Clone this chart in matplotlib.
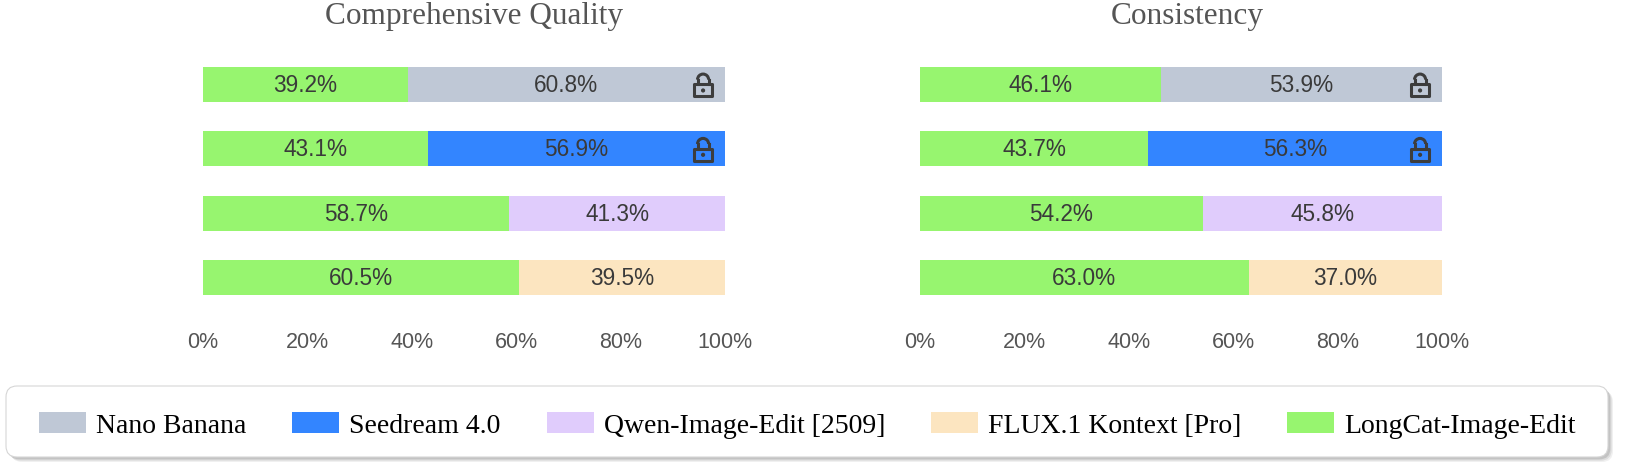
import matplotlib
matplotlib.use("Agg")
import matplotlib.pyplot as plt
from matplotlib.patches import Patch, FancyBboxPatch, Rectangle, Arc, Circle
from matplotlib.lines import Line2D
from matplotlib.offsetbox import DrawingArea, AnnotationBbox

models = ["Nano Banana", "Seedream 4.0", "Qwen-Image-Edit [2509]", "FLUX.1 Kontext [Pro]"]
ours = "LongCat-Image-Edit"
titles = ["Comprehensive Quality", "Consistency"]

ours_quality = [39.2, 43.1, 58.7, 60.5]
other_quality = [60.8, 56.9, 41.3, 39.5]
ours_consistency = [46.1, 43.7, 54.2, 63.0]
other_consistency = [53.9, 56.3, 45.8, 37.0]
closed_source = [True, True, False, False]

ticks = [0, 20, 40, 60, 80, 100]
tick_labels = ["0%", "20%", "40%", "60%", "80%", "100%"]

green = "#97f56f"
model_colors = ["#bfc8d6", "#3385ff", "#e0ccfc", "#fce5c0"]
label_color = "#3a3a3a"
lock_color = "#3d3d3d"

sans = "Liberation Sans"
serif = "Liberation Serif"

fig = plt.figure(figsize=(16.26, 4.77), dpi=100)

bar_h = 0.544
axes_pos = [[203 / 1626, 1 - 296 / 477, 522 / 1626, 228 / 477],
            [920 / 1626, 1 - 296 / 477, 522 / 1626, 228 / 477]]
title_x = [474 / 1626, 1187 / 1626]


def lock_icon():
    da = DrawingArea(15, 19, 0, 0)
    da.add_artist(Rectangle((1, 1), 13, 8.5, facecolor="none", edgecolor=lock_color,
                            linewidth=2.2, joinstyle="round"))
    da.add_artist(Circle((7.5, 5.2), 1.0, color=lock_color))
    da.add_artist(Arc((7.5, 13.0), 8.0, 8.0, theta1=0, theta2=180,
                      color=lock_color, linewidth=2.2))
    da.add_artist(Line2D([3.5, 3.5], [9.5, 13.0], color=lock_color, linewidth=2.2))
    da.add_artist(Line2D([11.5, 11.5], [9.5, 13.0], color=lock_color, linewidth=2.2))
    return da


series = [(ours_quality, other_quality), (ours_consistency, other_consistency)]
for i, (left_vals, right_vals) in enumerate(series):
    ax = fig.add_axes(axes_pos[i])
    y = list(range(len(models)))
    ax.barh(y, left_vals, height=bar_h, color=green, linewidth=0)
    ax.barh(y, right_vals, left=left_vals, height=bar_h, color=model_colors, linewidth=0)
    for j in y:
        ax.text(left_vals[j] / 2, j, f"{left_vals[j]:.1f}%", ha="center", va="center",
                fontsize=16.3, family=sans, color=label_color)
        ax.text(left_vals[j] + right_vals[j] / 2, j, f"{right_vals[j]:.1f}%", ha="center",
                va="center", fontsize=16.3, family=sans, color=label_color)
        if closed_source[j]:
            ab = AnnotationBbox(lock_icon(), (95.8, j), xycoords="data", frameon=False,
                                box_alignment=(0.5, 0.5), pad=0)
            ax.add_artist(ab)
    ax.set_xlim(0, 100)
    ax.set_ylim(len(models) - 1 + bar_h / 2, -bar_h / 2)
    ax.set_xticks(ticks)
    ax.set_xticklabels(tick_labels, fontsize=15.5, family=sans, color="#555555")
    ax.set_yticks([])
    ax.tick_params(axis="x", length=0, pad=26)
    for s in ax.spines.values():
        s.set_visible(False)
    fig.text(title_x[i], 1 - 24 / 477, titles[i], ha="center", va="baseline",
             fontsize=22.5, family=serif, color="#555555")

# legend frame with soft shadow
for k, a in enumerate([0.12, 0.18, 0.3]):
    off = 0.05 - k * 0.013
    fig.patches.append(FancyBboxPatch((0.06 + off, 0.19 - off), 16.02, 0.71,
                                      boxstyle="round,pad=0,rounding_size=0.11",
                                      transform=fig.dpi_scale_trans, facecolor="#888888",
                                      edgecolor="none", alpha=a, zorder=0))
fig.patches.append(FancyBboxPatch((0.06, 0.19), 16.02, 0.71,
                                  boxstyle="round,pad=0,rounding_size=0.11",
                                  transform=fig.dpi_scale_trans, facecolor="white",
                                  edgecolor="#d6d6d6", linewidth=0.8, zorder=1))

handles = [Patch(facecolor=c, edgecolor="none") for c in model_colors] + \
          [Patch(facecolor=green, edgecolor="none")]
labels = models + [ours]
leg = fig.legend(handles, labels, loc="center", bbox_to_anchor=(807.5 / 1626, 1 - 426 / 477),
                 ncol=5, frameon=False, prop={"family": serif, "size": 20},
                 handlelength=1.69, handleheight=0.77, handletextpad=0.37,
                 columnspacing=1.65, borderpad=0)
leg.set_zorder(3)

fig.savefig("out.png", dpi=100)
